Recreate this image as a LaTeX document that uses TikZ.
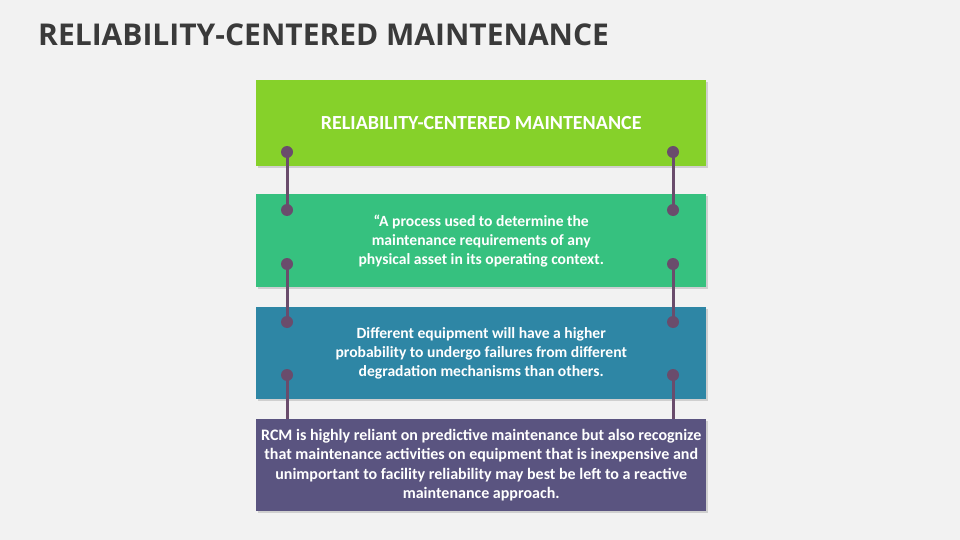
\documentclass[tikz,border=0pt]{standalone}
\usepackage{fontspec}
\setmainfont{Carlito}
\newfontfamily\titlefont{Open Sans}
\usetikzlibrary{shadows}
\definecolor{bgc}{HTML}{F2F2F2}
\definecolor{cA}{HTML}{86D12A}
\definecolor{cB}{HTML}{36C17F}
\definecolor{cC}{HTML}{2E86A5}
\definecolor{cD}{HTML}{5A5480}
\definecolor{conn}{HTML}{6A4C6C}
\definecolor{ttl}{HTML}{3A3A3A}
\tikzset{
  box/.style={draw=none, minimum width=450pt, anchor=north west, text=white, font=\bfseries\fontsize{15.6}{19}\selectfont, align=center, inner xsep=2pt, drop shadow={shadow xshift=2pt, shadow yshift=-2pt, opacity=0.3}},
  link/.style={conn, line width=3pt},
  dot/.style={circle, fill=conn, inner sep=0pt, minimum size=12pt}
}
\begin{document}
\begin{tikzpicture}[x=1pt,y=1pt]
\fill[bgc] (0,0) rectangle (960,-540);
\useasboundingbox (0,0) rectangle (960,-540);
\node[anchor=west, text=ttl, font=\titlefont\bfseries\fontsize{30}{34}\selectfont, inner sep=0pt] (title) at (38,-35) {RELIABILITY-CENTERED MAINTENANCE};
\foreach \x/\n in {287/l, 673/r}{
  \coordinate (\n1) at (\x,-152); \coordinate (\n2) at (\x,-210);
  \coordinate (\n3) at (\x,-264); \coordinate (\n4) at (\x,-322);
  \coordinate (\n5) at (\x,-375); \coordinate (\n6) at (\x,-425);
}
\node[box, fill=cA, minimum height=86pt, font=\bfseries\fontsize{20}{24}\selectfont] (b1) at (256,-80) {RELIABILITY-CENTERED MAINTENANCE};
\node[box, fill=cB, minimum height=93pt] (b2) at (256,-194) {“A process used to determine the\\maintenance requirements of any\\physical asset in its operating context.};
\node[box, fill=cC, minimum height=92pt] (b3) at (256,-307) {Different equipment will have a higher\\probability to undergo failures from different\\degradation mechanisms than others.};
\foreach \n in {l,r}{
  \draw[link] (\n1) -- (\n2);
  \draw[link] (\n3) -- (\n4);
  \draw[link] (\n5) -- (\n6);
  \foreach \i in {1,...,5}{\node[dot] at (\n\i) {};}
}
\node[box, fill=cD, minimum height=92pt, font=\bfseries\fontsize{16}{19.5}\selectfont] (b4) at (256,-419) {RCM is highly reliant on predictive maintenance but also recognize\\that maintenance activities on equipment that is inexpensive and\\unimportant to facility reliability may best be left to a reactive\\maintenance approach.};
\end{tikzpicture}
\end{document}
